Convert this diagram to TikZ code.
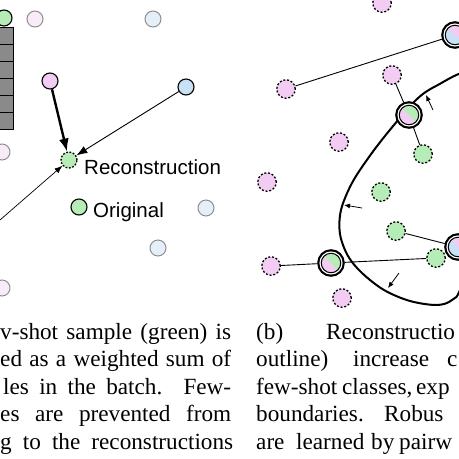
\documentclass[tikz,border=0pt]{standalone}
\usepackage{fontspec}
\setmainfont{Liberation Serif}
\setsansfont{Liberation Sans}
\usepackage{tikz}
\usetikzlibrary{arrows.meta}
\definecolor{pinkFill}{HTML}{F3CCF3}
\definecolor{blueFill}{HTML}{C9E1F6}
\definecolor{greenFill}{HTML}{B6EDB6}
\definecolor{palePink}{HTML}{F8ECF8}
\definecolor{paleBlue}{HTML}{E4EFF9}
\definecolor{ringGray}{HTML}{8F8F8F}
\definecolor{barGray}{HTML}{8A8A8A}

\begin{document}
\begin{tikzpicture}[x=1pt, y=-1pt,
    sample/.style={circle, draw, line width=1.1pt, minimum size=16pt, inner sep=0pt},
    faint/.style={circle, draw=ringGray, line width=1pt, minimum size=16pt, inner sep=0pt},
    dotted sample/.style={circle, draw, line width=1.3pt, dash pattern=on 2pt off 1.8pt,
        minimum size=18.5pt, inner sep=0pt},
    recon ring/.style 2 args={circle, minimum size=19.5pt, inner sep=0pt, outer sep=4pt,
        preaction={draw, line width=8pt}, preaction={draw=white, line width=3.6pt},
        draw, line width=1pt,
        path picture={
            \fill[#1] (path picture bounding box.south west) rectangle (path picture bounding box.north east);
            \fill[#2] (path picture bounding box.north west) -- (path picture bounding box.north east)
                -- (path picture bounding box.south east) -- cycle;}},
    lbl/.style={font=\sffamily\fontsize{20.5}{24}\selectfont, inner sep=0pt, anchor=base west},
    captxt/.style={font=\fontsize{23.2}{27}\selectfont, inner sep=0pt, anchor=base west},
    link/.style={line width=0.9pt},
    nudge/.style={line width=0.8pt, -{Latex[length=6pt,width=5pt]}},
]
    \useasboundingbox (0,0) rectangle (459,459);
    \clip (0,0) rectangle (459,459);

    % (a) reconstruction of one few-shot sample
    \foreach \i in {0,...,5}
        \draw[fill=barGray, line width=1pt] (-3,27+17*\i) rectangle (13,44+17*\i);
    \node[sample, fill=greenFill] (gTop) at (4,18) {};
    \node[faint, fill=palePink] (fP1) at (35,19) {};
    \node[faint, fill=paleBlue] (fB1) at (153,19) {};
    \node[faint, fill=palePink] (fP2) at (2,152) {};
    \node[faint, fill=paleBlue] (fB2) at (206,208) {};
    \node[faint, fill=paleBlue] (fB3) at (158,248) {};
    \node[faint, fill=palePink] (fP3) at (2,288) {};
    \node[sample, fill=pinkFill] (pA) at (50,81) {};
    \node[sample, fill=blueFill] (bA) at (186,87) {};
    \node[dotted sample, minimum size=16pt, dash pattern=on 1.8pt off 1.6pt, fill=greenFill] (recon) at (69,160) {};
    \node[sample, fill=greenFill] (orig) at (79,207) {};
    \coordinate (farL) at (-15,233);
    \draw[line width=2.4pt, -{Latex[length=13pt,width=10pt]}] (pA) -- (recon);
    \draw[line width=0.9pt, -{Latex[length=11pt,width=8pt]}] (bA) -- (recon);
    \draw[line width=0.7pt, -{Latex[length=8pt,width=6pt]}] (farL) -- (recon);
    \node[lbl] (reconLbl) at (84,174) {Reconstruction};
    \node[lbl] (origLbl) at (93,217) {Original};

    % (b) boundary pushed out by reconstructions
    \draw[line width=2pt] plot[smooth cycle, tension=0.55] coordinates {
        (470,72) (436,86) (416,100) (389,131) (369,157) (352,183) (341,210)
        (340,234) (348,256) (362,273) (384,290) (410,301) (437,305) (452,300)
        (462,285) (490,200) (490,100)};
    \node[dotted sample, fill=pinkFill] (pD0) at (382,3) {};
    \node[dotted sample, fill=pinkFill] (pD1) at (286,89) {};
    \node[dotted sample, fill=pinkFill] (pD2) at (392,75) {};
    \node[dotted sample, fill=pinkFill] (pD3) at (339,142) {};
    \node[dotted sample, fill=pinkFill] (pD4) at (267,182) {};
    \node[dotted sample, fill=pinkFill] (pD5) at (271,266) {};
    \node[dotted sample, fill=pinkFill] (pD6) at (342,298) {};
    \node[dotted sample, fill=greenFill] (gD1) at (423,154) {};
    \node[dotted sample, fill=greenFill] (gD2) at (381,192) {};
    \node[dotted sample, fill=greenFill] (gD3) at (396,231) {};
    \node[dotted sample, fill=greenFill] (gD4) at (436,258) {};
    \node[recon ring={blueFill}{pinkFill}] (rTop) at (455,35) {};
    \node[recon ring={pinkFill}{greenFill}] (rMid) at (409,115) {};
    \node[recon ring={blueFill}{pinkFill}] (rRight) at (458,247) {};
    \node[recon ring={pinkFill}{greenFill}] (rLow) at (331,263) {};
    \draw[link] (pD1) -- (rTop);
    \draw[link] (pD2) -- (rMid);
    \draw[link] (rMid) -- (gD1);
    \draw[link] (gD3) -- (rRight);
    \draw[link] (pD5) -- (rLow);
    \draw[link] (rLow) -- (gD4);
    \coordinate (nA0) at (433,110);
    \coordinate (nA1) at (426,95);
    \coordinate (nB0) at (362,208);
    \coordinate (nB1) at (344,205);
    \coordinate (nC0) at (399,273);
    \coordinate (nC1) at (388,288);
    \draw[nudge] (nA0) -- (nA1);
    \draw[nudge] (nB0) -- (nB1);
    \draw[nudge] (nC0) -- (nC1);

    % captions
    \node[captxt] (capA1) at (0,339) {\makebox[231pt][s]{v-shot sample (green) is}};
    \node[captxt] (capA2) at (0,366.5) {\makebox[231pt][s]{ed as a weighted sum of}};
    \node[captxt] (capA3) at (3,394) {\makebox[228pt][s]{les in the batch. Few-}};
    \node[captxt] (capA4) at (0,421.5) {\makebox[231pt][s]{es are prevented from}};
    \node[captxt] (capA5) at (0,449) {\makebox[233pt][s]{g to the reconstructions}};
    \node[captxt] (capB1) at (256,339) {\makebox[70pt][l]{(b)}Reconstructio};
    \node[captxt] (capB2) at (256,366.5) {\makebox[97pt][l]{outline)}\makebox[94pt][l]{increase}c};
    \node[captxt] (capB3) at (256,394) {\makebox[86pt][l]{few-shot}\makebox[74pt][l]{classes,}exp};
    \node[captxt] (capB4) at (256,421.5) {\makebox[128pt][l]{boundaries.}Robus};
    \node[captxt] (capB5) at (256,449) {\makebox[40pt][l]{are}\makebox[75pt][l]{learned}\makebox[28pt][l]{by}pairw};
\end{tikzpicture}
\end{document}
